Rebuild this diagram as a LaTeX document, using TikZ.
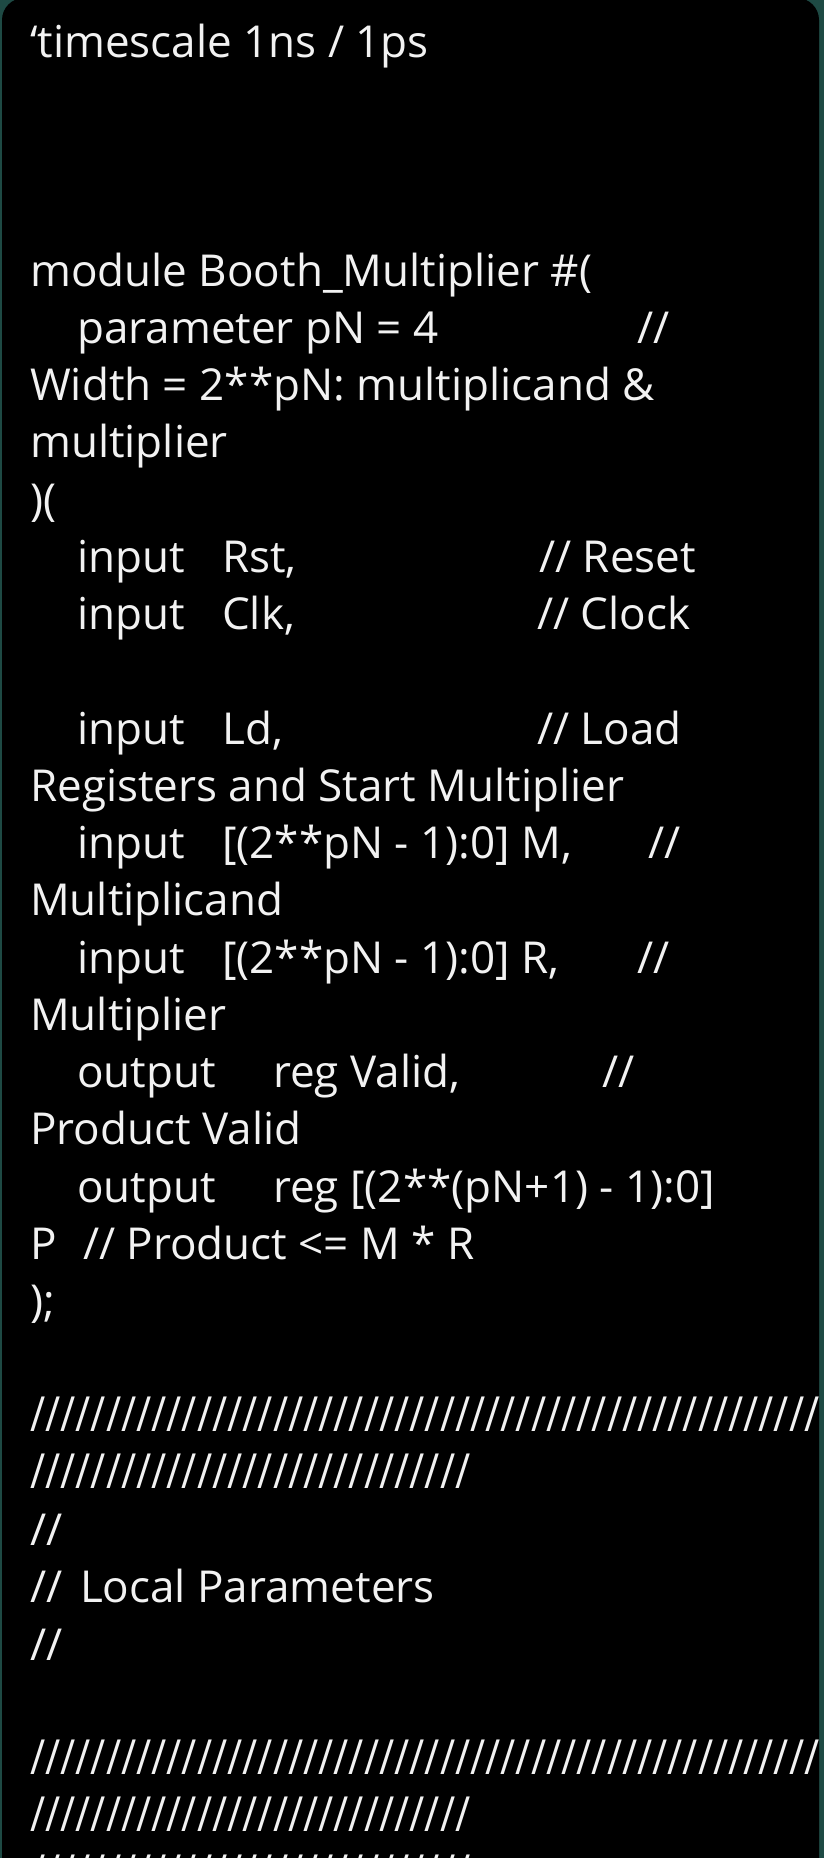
\documentclass[tikz,border=0pt]{standalone}
\usepackage{fontspec}
\setmainfont{Open Sans}
\definecolor{bgteal}{HTML}{1E4A44}
\definecolor{codetxt}{HTML}{F2F2F2}
\begin{document}
\begin{tikzpicture}[x=1pt,y=-1pt,
  code/.style={anchor=base west,inner sep=0pt,text=codetxt,font=\fontsize{44}{44}\selectfont}]
\useasboundingbox (0,0) rectangle (824,1858);
\fill[bgteal] (0,0) rectangle (824,1858);
\fill[black,rounded corners=22pt] (2,-2) rectangle (819,1880);
\clip (0,0) rectangle (824,1858);
\newcommand\cl[3]{\node[code] at (#1,{57+57.25*#2}) {#3};}
\newcommand\slrow[1]{\scalebox{0.94}[1.1]{#1}}
\cl{30}{0}{{\char"60}timescale 1ns / 1ps}
\cl{30}{4}{module Booth\_Multiplier \#(}
\cl{77}{5}{parameter pN = 4}
\cl{637}{5}{//}
\cl{30}{6}{Width = 2**pN: multiplicand \&}
\cl{30}{7}{multiplier}
\cl{30}{8}{)(}
\cl{77}{9}{input}\cl{222}{9}{Rst,}\cl{539}{9}{// Reset}
\cl{77}{10}{input}\cl{222}{10}{Clk,}\cl{537}{10}{// Clock}
\cl{77}{12}{input}\cl{222}{12}{Ld,}\cl{537}{12}{// Load}
\cl{30}{13}{Registers and Start Multiplier}
\cl{77}{14}{input}\cl{222}{14}{[(2**pN - 1):0] M,}\cl{648}{14}{//}
\cl{30}{15}{Multiplicand}
\cl{77}{16}{input}\cl{222}{16}{[(2**pN - 1):0] R,}\cl{637}{16}{//}
\cl{30}{17}{Multiplier}
\cl{77}{18}{output}\cl{273}{18}{reg Valid,}\cl{602}{18}{//}
\cl{30}{19}{Product Valid}
\cl{77}{20}{output}\cl{273}{20}{reg [(2**(pN+1) - 1):0]}
\cl{30}{21}{P\hspace{0.6em}// Product <= M * R}
\cl{30}{22}{);}
\cl{30}{24}{\slrow{////////////////////////////////////////////////////}}
\cl{30}{25}{\slrow{/////////////////////////////}}
\cl{30}{26}{//}
\cl{30}{27}{//\hspace{0.4em}Local Parameters}
\cl{30}{28}{//}
\cl{30}{30}{\slrow{////////////////////////////////////////////////////}}
\cl{30}{31}{\slrow{/////////////////////////////}}
\cl{30}{32}{\slrow{/////////////////////////////}}
\end{tikzpicture}
\end{document}
